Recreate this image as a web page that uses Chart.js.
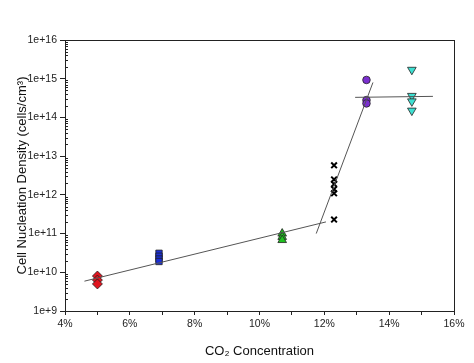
<!DOCTYPE html>
<html>
<head>
<meta charset="utf-8">
<script src="https://cdn.jsdelivr.net/npm/chart.js@4/dist/chart.umd.min.js"></script>
<style>
  html, body { margin: 0; padding: 0; background: #fff; }
  #wrap { width: 474px; height: 363px; }
</style>
</head>
<body>
<div id="wrap"><canvas id="chart"></canvas></div>
<script>
// CO2 concentration (%) and nucleation density (cells/cm3) per group
const redConc = [5, 5, 5];
const redDensity = [8e9, 6.3e9, 5e9];
const blueConc = [6.9, 6.9, 6.9, 6.9];
const blueDensity = [3.1e10, 2.6e10, 2.2e10, 1.9e10];
const greenConc = [10.7, 10.7, 10.7];
const greenDensity = [1.0e11, 8.2e10, 6.8e10];
const crossConc = [12.3, 12.3, 12.3, 12.3, 12.3, 12.3];
const crossDensity = [5.8e12, 2.5e12, 1.9e12, 1.4e12, 1.1e12, 2.3e11];
const purpleConc = [13.3, 13.3, 13.3];
const purpleDensity = [9.3e14, 2.8e14, 2.3e14];
const cyanConc = [14.7, 14.7, 14.7, 14.7];
const cyanDensity = [1.7e15, 3.6e14, 2.6e14, 1.5e14];

// fitted trend lines (end points)
const fitLowConc = [4.6, 12.05];
const fitLowDensity = [5.9e9, 2e11];
const fitMidConc = [11.75, 13.5];
const fitMidDensity = [1e11, 8e14];
const fitHighConc = [12.95, 15.35];
const fitHighDensity = [3.3e14, 3.5e14];

const xTicks = [4, 5, 6, 7, 8, 9, 10, 11, 12, 13, 14, 15, 16];
const yTicks = [1e9, 1e10, 1e11, 1e12, 1e13, 1e14, 1e15, 1e16];

function pts(xs, ys) {
  return xs.map((x, i) => ({ x: x, y: ys[i] }));
}

function markerSet(label, xs, ys, style, fill, size, extra) {
  return Object.assign({
    label: label,
    data: pts(xs, ys),
    pointStyle: style,
    pointRadius: size,
    pointBackgroundColor: fill,
    pointBorderColor: '#222',
    pointBorderWidth: 0.8,
    showLine: false
  }, extra || {});
}

function fitLine(label, xs, ys) {
  return {
    label: label,
    data: pts(xs, ys),
    showLine: true,
    borderColor: '#555',
    borderWidth: 1,
    pointRadius: 0
  };
}

// box around the plot plus the small inward minor ticks on the y axis
const framePlugin = {
  id: 'frame',
  afterDraw(chart) {
    const { ctx, chartArea: a } = chart;
    const y = chart.scales.y;
    ctx.save();
    ctx.strokeStyle = '#222';
    ctx.lineWidth = 1;
    ctx.strokeRect(a.left + 0.5, a.top + 0.5, a.right - a.left, a.bottom - a.top);
    ctx.beginPath();
    for (let e = 9; e < 16; e++) {
      for (let k = 2; k <= 9; k++) {
        const py = Math.round(y.getPixelForValue(k * Math.pow(10, e))) + 0.5;
        ctx.moveTo(a.left, py);
        ctx.lineTo(a.left + 3, py);
      }
    }
    ctx.stroke();
    ctx.restore();
  }
};

new Chart(document.getElementById('chart'), {
  type: 'scatter',
  data: {
    datasets: [
      fitLine('fit low', fitLowConc, fitLowDensity),
      fitLine('fit mid', fitMidConc, fitMidDensity),
      fitLine('fit high', fitHighConc, fitHighDensity),
      markerSet('5%', redConc, redDensity, 'rectRot', '#e0141e', 5),
      markerSet('6.9%', blueConc, blueDensity, 'rect', '#1a2ed8', 4.5),
      markerSet('10.7%', greenConc, greenDensity, 'triangle', '#1fc01f', 5),
      markerSet('12.3%', crossConc, crossDensity, 'crossRot', '#000', 4,
        { pointBorderColor: '#000', pointBorderWidth: 2 }),
      markerSet('13.3%', purpleConc, purpleDensity, 'circle', '#7b2fd0', 3.8),
      markerSet('14.7%', cyanConc, cyanDensity, 'triangle', '#3ee0d2', 5,
        { pointRotation: 180 })
    ]
  },
  plugins: [framePlugin],
  options: {
    responsive: true,
    maintainAspectRatio: false,
    animation: false,
    layout: { padding: { top: 40, right: 20, left: 0, bottom: 0 } },
    plugins: {
      legend: { display: false },
      tooltip: { enabled: false }
    },
    scales: {
      x: {
        type: 'linear',
        min: 4,
        max: 16,
        afterBuildTicks: s => { s.ticks = xTicks.map(v => ({ value: v })); },
        afterFit: s => { s.height = 52; },
        border: { color: '#222', width: 1 },
        grid: { drawOnChartArea: false, tickLength: 4, tickColor: '#222' },
        ticks: {
          color: '#222',
          padding: 3,
          font: { family: 'Liberation Sans, Arial', size: 10.5 },
          callback: v => (v % 2 === 0 ? v + '%' : '')
        },
        title: {
          display: true,
          text: 'CO\u2082 Concentration',
          color: '#111',
          font: { family: 'Liberation Sans, Arial', size: 13 },
          padding: { top: 0, bottom: 4 }
        }
      },
      y: {
        type: 'logarithmic',
        min: 1e9,
        max: 1e16,
        afterBuildTicks: s => { s.ticks = yTicks.map(v => ({ value: v })); },
        afterFit: s => { s.width = 65; },
        border: { color: '#222', width: 1 },
        grid: { drawOnChartArea: false, tickLength: 5, tickColor: '#222' },
        ticks: {
          color: '#222',
          padding: 3,
          font: { family: 'Liberation Sans, Arial', size: 10.5 },
          callback: v => '1e+' + Math.round(Math.log10(v))
        },
        title: {
          display: true,
          text: 'Cell Nucleation Density (cells/cm\u00b3)',
          color: '#111',
          font: { family: 'Liberation Sans, Arial', size: 13 },
          padding: { top: 15, bottom: 0 }
        }
      }
    }
  }
});
</script>
</body>
</html>
